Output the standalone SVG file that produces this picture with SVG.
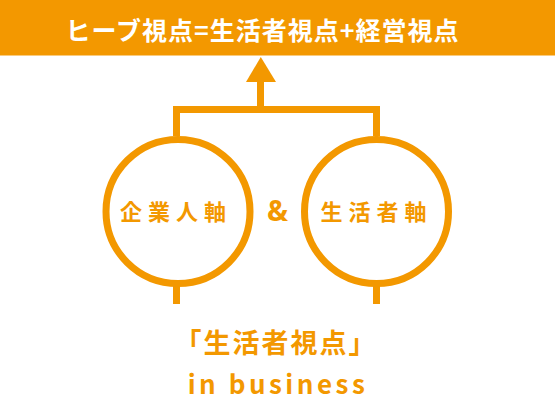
<svg xmlns="http://www.w3.org/2000/svg" width="555" height="400" viewBox="0 0 555 400">
<style>
.o{fill:none;stroke:#F39800;stroke-width:7}
.t{font-family:"Noto Sans CJK JP","Noto Sans",sans-serif;font-weight:bold;fill:#F39800}
</style>
<rect width="555" height="400" fill="#fff"/>
<g id="title">
<rect x="0" y="0" width="555" height="55.5" fill="#F39800"/>
<text x="262.5" y="40" text-anchor="middle" class="t" style="fill:#fff;font-size:25px;letter-spacing:1px">ヒーブ視点=生活者視点+経営視点</text>
</g>
<g id="connectors">
<polyline class="o" points="176.5,136 176.5,109.5 376.5,109.5 376.5,136"/>
<line class="o" x1="260.5" y1="109.5" x2="260.5" y2="80"/>
<polygon points="260.8,57 246,82 276,82" fill="#F39800"/>
<line class="o" x1="176.5" y1="286" x2="176.5" y2="304"/>
<line class="o" x1="376.5" y1="286" x2="376.5" y2="304"/>
</g>
<g id="node-left">
<circle class="o" cx="178" cy="211.5" r="72"/>
<text x="176" y="220" text-anchor="middle" class="t" style="font-size:22px;letter-spacing:6px">企業人軸</text>
</g>
<g id="amp">
<text x="277.5" y="221" text-anchor="middle" class="t" style="font-size:28px;font-family:'Noto Sans',sans-serif">&amp;</text>
</g>
<g id="node-right">
<circle class="o" cx="376.5" cy="211.5" r="72"/>
<text x="376.5" y="220" text-anchor="middle" class="t" style="font-size:22px;letter-spacing:6px">生活者軸</text>
</g>
<g id="caption">
<text x="276" y="353" text-anchor="middle" class="t" style="font-size:27px;letter-spacing:2px">「生活者視点」</text>
<text x="278" y="394" text-anchor="middle" class="t" style="font-size:26px;letter-spacing:3.5px">in business</text>
</g>
</svg>
